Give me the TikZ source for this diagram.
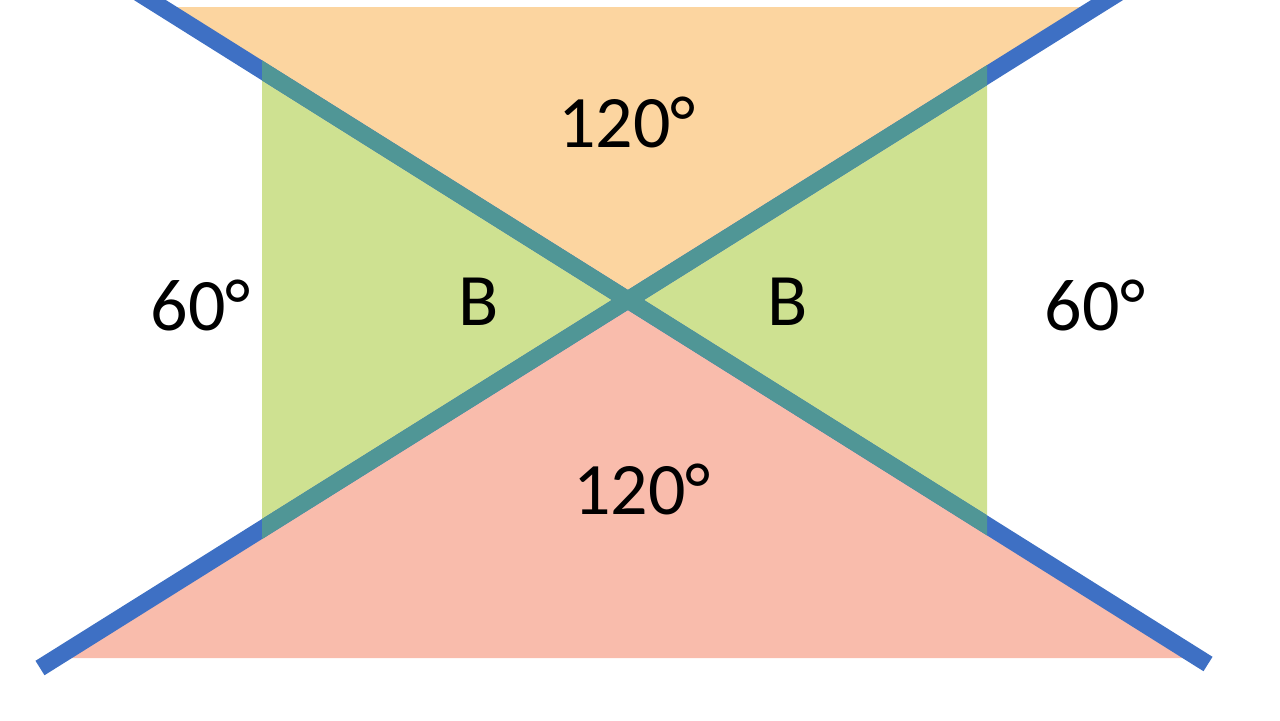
\documentclass[tikz,border=0pt]{standalone}
\usepackage{fontspec}
\setmainfont{Carlito}
\definecolor{topfill}{RGB}{252,213,160}
\definecolor{botfill}{RGB}{249,188,172}
\definecolor{sidefill}{RGB}{206,225,145}
\definecolor{rayblue}{RGB}{62,112,196}
\definecolor{rayteal}{RGB}{80,150,150}
\begin{document}
\begin{tikzpicture}[x=0.5pt,y=-0.5pt,
	ang/.style={inner sep=0, font=\fontsize{37}{44}\selectfont}]
	\clip (0,0) rectangle (1280,720);
	\coordinate (x) at (628,300);
	\coordinate (a1) at (118,-20);
	\coordinate (a2) at (1208,664);
	\coordinate (b1) at (1139,-20);
	\coordinate (b2) at (40,668);
	\fill[topfill] (161,7) -- (1096,7) -- (x) -- cycle;
	\fill[botfill] (56,658) -- (1198,658) -- (x) -- cycle;
	\fill[sidefill] (262,70) -- (262,529) -- (x) -- cycle;
	\fill[sidefill] (987,75) -- (987,525) -- (x) -- cycle;
	\draw[rayblue, line width=8.5pt] (a1) -- (a2);
	\draw[rayblue, line width=8.5pt] (b2) -- (b1);
	\begin{scope}
		\clip (262,0) rectangle (987,720);
		\draw[rayteal, line width=8.5pt] (a1) -- (a2);
		\draw[rayteal, line width=8.5pt] (b2) -- (b1);
	\end{scope}
	\node (t) at (627,122) [ang] {120°};
	\node (b) at (642,489) [ang] {120°};
	\node (l) at (201,305) [ang] {60°};
	\node (r) at (1095,305) [ang] {60°};
	\node (bl) at (479,302) [ang] {B};
	\node (br) at (788,302) [ang] {B};
\end{tikzpicture}
\end{document}
